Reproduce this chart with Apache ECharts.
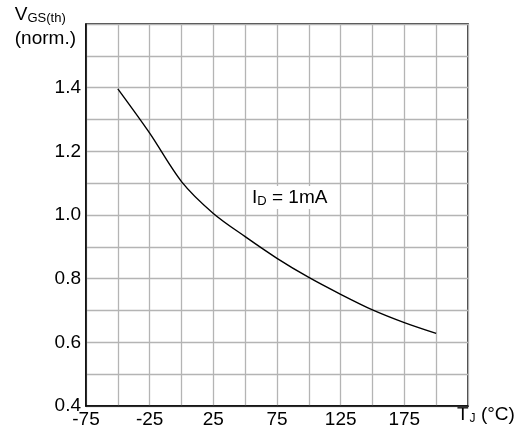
<!DOCTYPE html>
<html>
<head>
<meta charset="utf-8">
<script src="https://cdn.jsdelivr.net/npm/echarts@6/dist/echarts.min.js"></script>
<style>
  html, body { margin: 0; padding: 0; background: #fff; }
  #chart { width: 519px; height: 433px; }
</style>
</head>
<body>
<div id="chart"></div>
<script>
// junction temperature (°C) and normalised VGS(th)
const tempC = [-50, -25, 0, 25, 50, 75, 100, 125, 150, 175, 200]
const vgsNorm = [1.396, 1.257, 1.105, 1.005, 0.932, 0.864, 0.804, 0.751, 0.702, 0.662, 0.628]

const font = 'Liberation Sans, Arial, sans-serif'
const chart = echarts.init(document.getElementById('chart'))

let option = {
  animation: false,
  grid: {
    left: 86,
    top: 24,
    right: 51,
    bottom: 27,
    show: true,
    borderColor: '#000',
    borderWidth: 1.5
  },
  xAxis: {
    type: 'value',
    min: -75,
    max: 225,
    interval: 25,
    axisLine: { onZero: false, lineStyle: { color: '#000', width: 1.5 } },
    axisTick: { show: false },
    splitLine: { lineStyle: { color: '#b4b4b4', width: 1.3 } },
    axisLabel: {
      color: '#000',
      fontFamily: font,
      fontSize: 19,
      margin: 4,
      formatter: function (v) {
        if (v >= 225 || (v + 75) % 50 !== 0) return ''
        return String(v)
      }
    }
  },
  yAxis: {
    type: 'value',
    min: 0.4,
    max: 1.6,
    interval: 0.1,
    axisLine: { onZero: false, lineStyle: { color: '#000', width: 1.5 } },
    axisTick: { show: false },
    splitLine: { lineStyle: { color: '#b4b4b4', width: 1.3 } },
    axisLabel: {
      color: '#000',
      fontFamily: font,
      fontSize: 19,
      margin: 5,
      formatter: function (v) {
        let k = Math.round(v * 10)
        if (k % 2 !== 0 || k > 14) return ''
        return v.toFixed(1)
      }
    }
  },
  graphic: [
    {
      type: 'text',
      right: 443,
      top: 5,
      style: {
        text: '{v|V}{s|GS(th)}\n{n|(norm.)}',
        align: 'right',
        rich: {
          v: { fontFamily: font, fontSize: 19, fill: '#000', lineHeight: 24 },
          s: { fontFamily: font, fontSize: 13, fill: '#000', padding: [7, 0, 0, 0], lineHeight: 24 },
          n: { fontFamily: font, fontSize: 19, fill: '#000', lineHeight: 24 }
        }
      }
    },
    {
      type: 'text',
      left: 457,
      top: 405,
      style: {
        text: '{t|T}{s|J}{t| (°C)}',
        rich: {
          t: { fontFamily: font, fontSize: 19, fill: '#000' },
          s: { fontFamily: font, fontSize: 12, fill: '#000', padding: [9, 0, 0, 1] }
        }
      }
    },
    {
      type: 'text',
      left: 249,
      top: 186,
      z: 10,
      style: {
        text: '{t|I}{s|D}{t| = 1mA}',
        backgroundColor: '#fff',
        padding: [1, 3, 1, 3],
        rich: {
          t: { fontFamily: font, fontSize: 19, fill: '#000' },
          s: { fontFamily: font, fontSize: 13, fill: '#000', padding: [8, 0, 0, 0] }
        }
      }
    }
  ],
  series: [{
    type: 'line',
    data: tempC.map((t, i) => [t, vgsNorm[i]]),
    smooth: 0.3,
    showSymbol: false,
    lineStyle: { color: '#000', width: 1.4 }
  }]
}
chart.setOption(option)
</script>
</body>
</html>
